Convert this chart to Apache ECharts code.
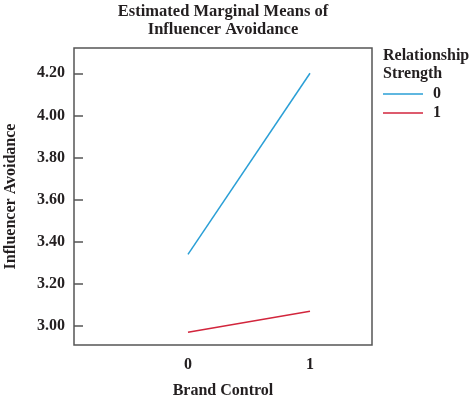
<!DOCTYPE html>
<html>
<head>
<meta charset="utf-8">
<script src="https://cdn.jsdelivr.net/npm/echarts@6/dist/echarts.min.js"></script>
<style>
  html, body { margin: 0; padding: 0; background: #fff; }
  #chart { width: 474px; height: 397px; }
</style>
</head>
<body>
<div id="chart"></div>
<script>
const brandControl = [0, 1];
const strengthNames = ['0', '1'];
const strength0 = [3.34, 4.20];
const strength1 = [2.97, 3.07];
const yTicks = [3.0, 3.2, 3.4, 3.6, 3.8, 4.0, 4.2];
const xTicks = [0, 1];

const font = 'Liberation Serif';
const ink = '#231f20';

const chart = echarts.init(document.getElementById('chart'));

const toPairs = (vals) => brandControl.map((x, i) => [x, vals[i]]);

chart.setOption({
  animation: false,
  title: [
    {
      text: 'Estimated Marginal Means of\nInfluencer Avoidance',
      left: 223,
      top: 3,
      padding: 0,
      textAlign: 'center',
      textStyle: {
        fontFamily: font,
        fontWeight: 'bold',
        fontSize: 16.5,
        lineHeight: 18,
        color: ink
      }
    },
    {
      text: 'Relationship\nStrength',
      left: 383,
      top: 47,
      padding: 0,
      textStyle: {
        fontFamily: font,
        fontWeight: 'bold',
        fontSize: 16,
        lineHeight: 18,
        color: ink
      }
    }
  ],
  legend: {
    orient: 'vertical',
    left: 383,
    top: 86,
    padding: 0,
    icon: 'rect',
    itemWidth: 40,
    itemHeight: 1.5,
    itemGap: 3,
    textStyle: {
      fontFamily: font,
      fontWeight: 'bold',
      fontSize: 16,
      lineHeight: 16,
      color: ink,
      padding: [0, 0, 0, 5]
    },
    data: strengthNames
  },
  grid: {
    left: 74,
    right: 102,
    top: 48,
    bottom: 52,
    show: true,
    borderColor: '#555',
    borderWidth: 1.5,
    outerBoundsMode: 'none'
  },
  xAxis: {
    type: 'value',
    min: -0.934,
    max: 1.508,
    name: 'Brand Control',
    nameLocation: 'middle',
    nameGap: 38,
    nameTextStyle: {
      fontFamily: font,
      fontWeight: 'bold',
      fontSize: 16,
      color: ink
    },
    axisLine: { show: false, onZero: false },
    axisTick: { show: false },
    splitLine: { show: false },
    axisLabel: {
      customValues: xTicks,
      margin: 12,
      fontFamily: font,
      fontWeight: 'bold',
      fontSize: 16,
      color: ink
    }
  },
  yAxis: {
    type: 'value',
    min: 2.91,
    max: 4.32,
    name: 'Influencer Avoidance',
    nameLocation: 'middle',
    nameRotate: 90,
    nameGap: 55,
    nameTextStyle: {
      fontFamily: font,
      fontWeight: 'bold',
      fontSize: 16,
      color: ink
    },
    axisLine: { show: false, onZero: false },
    splitLine: { show: false },
    axisTick: {
      show: true,
      inside: true,
      length: 9,
      customValues: yTicks,
      lineStyle: { color: '#555', width: 1.5 }
    },
    axisLabel: {
      customValues: yTicks,
      margin: 9,
      formatter: (v) => v.toFixed(2),
      fontFamily: font,
      fontWeight: 'bold',
      fontSize: 16,
      color: ink
    }
  },
  series: [
    {
      name: strengthNames[0],
      type: 'line',
      data: toPairs(strength0),
      symbol: 'none',
      lineStyle: { color: '#2a9fd6', width: 1.5 },
      itemStyle: { color: '#2a9fd6' }
    },
    {
      name: strengthNames[1],
      type: 'line',
      data: toPairs(strength1),
      symbol: 'none',
      lineStyle: { color: '#d2253c', width: 1.5 },
      itemStyle: { color: '#d2253c' }
    }
  ]
});
</script>
</body>
</html>
